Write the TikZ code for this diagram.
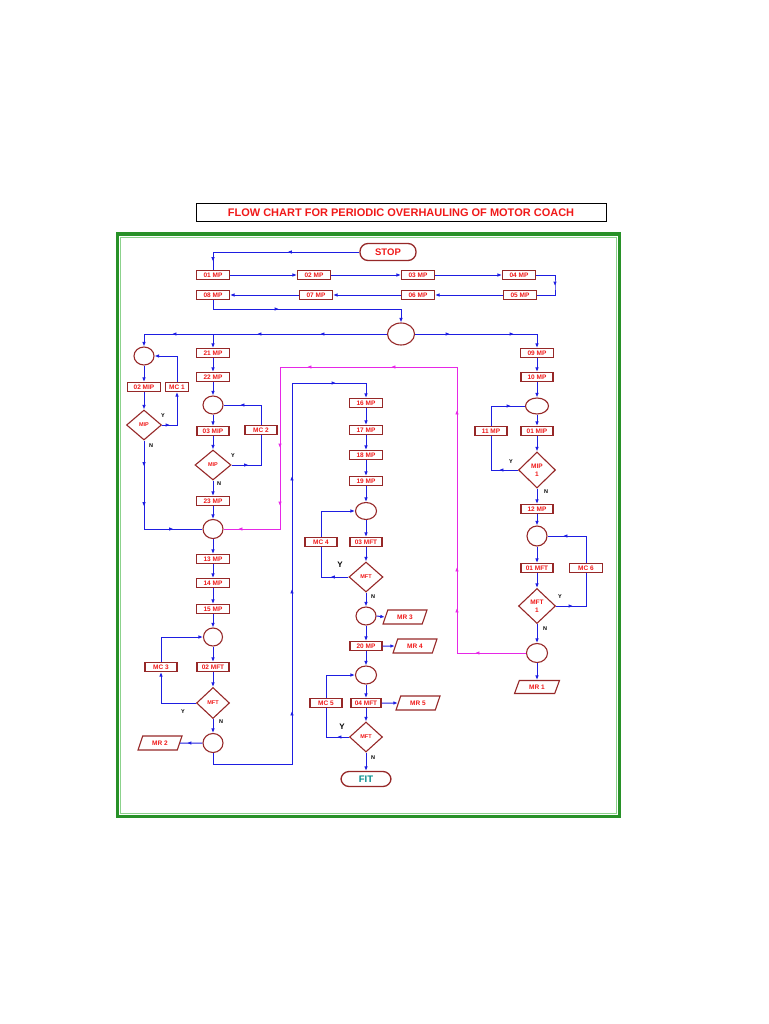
\documentclass[tikz,border=0pt]{standalone}
\usepackage{fontspec}
\setmainfont{Liberation Sans}
\usetikzlibrary{arrows.meta,positioning,shapes.geometric,decorations.markings}
\definecolor{boxred}{RGB}{240,25,25}
\definecolor{edgebrown}{RGB}{150,40,40}
\definecolor{flowblue}{RGB}{30,30,225}
\definecolor{loopmag}{RGB}{230,40,230}
\definecolor{framegreen}{RGB}{40,145,40}
\definecolor{framelight}{RGB}{140,210,140}
\definecolor{fitteal}{RGB}{0,140,140}

\begin{document}
\begin{tikzpicture}[x=1pt, y=-1pt,
    >={Latex[length=4.5pt,width=3.6pt]},
    stepbox/.style={draw=edgebrown, line width=1.1pt, fill=white, text=boxred, font=\bfseries\fontsize{6.5}{7}\selectfont, minimum width=33pt, minimum height=9pt, inner sep=0pt},
    junc/.style={ellipse, draw=edgebrown, line width=1.1pt, fill=white, minimum width=20pt, minimum height=18pt, inner sep=0pt},
    check/.style={diamond, draw=edgebrown, line width=1.1pt, fill=white, text=boxred, font=\bfseries\fontsize{5.5}{6}\selectfont, minimum width=35pt, minimum height=30pt, inner sep=0pt, align=center},
    report/.style={trapezium, trapezium stretches=true, trapezium left angle=65, trapezium right angle=115, draw=edgebrown, line width=1.1pt, fill=white, text=boxred, font=\bfseries\fontsize{6.5}{7}\selectfont, minimum width=44pt, minimum height=14pt, inner sep=0pt},
    term/.style={draw=edgebrown, line width=1.3pt, rounded corners=8pt, fill=white, font=\bfseries\fontsize{9.5}{10}\selectfont, minimum width=56pt, minimum height=17pt, inner sep=0pt},
    bline/.style={draw=flowblue, line width=1pt},
    magline/.style={draw=loopmag, line width=1pt},
    ma/.style={postaction={decorate,decoration={markings,mark=at position #1 with {\arrow{>}}}}},
    yn/.style={font=\bfseries\fontsize{5.5}{6}\selectfont, inner sep=0pt},
    bigyn/.style={font=\bfseries\fontsize{8}{9}\selectfont, inner sep=0pt}
]
    \useasboundingbox (0,0) rectangle (768,1024);

    % title and frame
    \node[draw=black, line width=1pt, minimum width=410pt, minimum height=18pt, inner sep=0pt, text=boxred, font=\bfseries\fontsize{11}{12}\selectfont] (title) at (401,213) {FLOW CHART FOR PERIODIC OVERHAULING OF MOTOR COACH};
    \draw[framegreen, line width=3pt] (117,234) rectangle (619,816);
    \draw[framelight, line width=0.8pt] (120,237) rectangle (616,813);

    % top rows
    \node[term, text=boxred] (stop) at (388,252) {STOP};
    \node[stepbox] (mp01) at (213,275) {01 MP};
    \node[stepbox] (mp02) at (314,275) {02 MP};
    \node[stepbox] (mp03) at (418,275) {03 MP};
    \node[stepbox] (mp04) at (519,275) {04 MP};
    \node[stepbox] (mp05) at (520,295) {05 MP};
    \node[stepbox] (mp06) at (418,295) {06 MP};
    \node[stepbox] (mp07) at (316,295) {07 MP};
    \node[stepbox] (mp08) at (213,295) {08 MP};
    \node[junc, minimum width=27pt, minimum height=22pt] (circ1) at (401,334) {};

    % left loop
    \node[junc] (circA) at (144,356) {};
    \node[stepbox] (mip02) at (144,387) {02 MIP};
    \node[stepbox, minimum width=23pt] (mc1) at (177,387) {MC 1};
    \node[check] (dA) at (144,425) {MIP};

    % second column
    \node[stepbox] (mp21) at (213,353) {21 MP};
    \node[stepbox] (mp22) at (213,377) {22 MP};
    \node[junc] (circC) at (213,405) {};
    \node[stepbox, minimum width=32pt] (mip03) at (213,431) {03 MIP};
    \node[stepbox, minimum width=32pt] (mc2) at (261,430) {MC 2};
    \node[check, minimum width=36pt] (dB) at (213,465) {MIP};
    \node[stepbox] (mp23) at (213,501) {23 MP};
    \node[junc, minimum height=19pt] (circB) at (213,529) {};
    \node[stepbox] (mp13) at (213,559) {13 MP};
    \node[stepbox] (mp14) at (213,583) {14 MP};
    \node[stepbox] (mp15) at (213,609) {15 MP};
    \node[junc, minimum width=19pt] (circD) at (213,637) {};
    \node[stepbox, minimum width=32pt] (mft02) at (213,667) {02 MFT};
    \node[stepbox, minimum width=32pt] (mc3) at (161,667) {MC 3};
    \node[check, minimum width=33pt, minimum height=31pt] (dC) at (213,703) {MFT};
    \node[junc, minimum height=19pt] (circE) at (213,743) {};
    \node[report] (mr2) at (160,743) {MR 2};

    % centre column
    \node[stepbox] (mp16) at (366,403) {16 MP};
    \node[stepbox] (mp17) at (366,430) {17 MP};
    \node[stepbox] (mp18) at (366,455) {18 MP};
    \node[stepbox] (mp19) at (366,481) {19 MP};
    \node[junc, minimum width=21pt, minimum height=17pt] (circF) at (366,511) {};
    \node[stepbox, minimum width=32pt] (mft03) at (366,542) {03 MFT};
    \node[stepbox, minimum width=32pt] (mc4) at (321,542) {MC 4};
    \node[check, minimum width=34pt] (dD) at (366,577) {MFT};
    \node[junc] (circG) at (366,616) {};
    \node[report] (mr3) at (405,617) {MR 3};
    \node[stepbox, minimum width=32pt] (mp20) at (366,646) {20 MP};
    \node[report] (mr4) at (415,646) {MR 4};
    \node[junc, minimum width=21pt] (circH) at (366,675) {};
    \node[stepbox, minimum width=32pt] (mc5) at (326,703) {MC 5};
    \node[stepbox, minimum width=30pt] (mft04) at (366,703) {04 MFT};
    \node[report] (mr5) at (418,703) {MR 5};
    \node[check, minimum width=33pt] (dE) at (366,737) {MFT};
    \node[term, minimum width=50pt, minimum height=15pt, text=fitteal] (fit) at (366,779) {FIT};

    % right column
    \node[stepbox] (mp09) at (537,353) {09 MP};
    \node[stepbox, minimum width=32pt] (mp10) at (537,377) {10 MP};
    \node[junc, minimum width=23pt, minimum height=16pt] (circI) at (537,406) {};
    \node[stepbox, minimum width=32pt] (mp11) at (491,431) {11 MP};
    \node[stepbox, minimum width=32pt] (mip01) at (537,431) {01 MIP};
    \node[check, minimum width=37pt, minimum height=36pt, font=\bfseries\fontsize{6.5}{8}\selectfont] (dF) at (537,470) {MIP\\1};
    \node[stepbox, minimum width=32pt] (mp12) at (537,509) {12 MP};
    \node[junc, minimum height=20pt] (circJ) at (537,536) {};
    \node[stepbox, minimum width=32pt] (mft01) at (537,568) {01 MFT};
    \node[stepbox] (mc6) at (586,568) {MC 6};
    \node[check, minimum width=37pt, minimum height=35pt, font=\bfseries\fontsize{6.5}{8}\selectfont] (dG) at (537,606) {MFT\\1};
    \node[junc, minimum width=21pt, minimum height=19pt] (circK) at (537,653) {};
    \node[report, minimum width=45pt, minimum height=13pt] (mr1) at (537,687) {MR 1};

    % Y / N labels
    \node[yn] (yA) at (163,416) {Y};
    \node[yn] (nA) at (151,446) {N};
    \node[yn] (yB) at (233,456) {Y};
    \node[yn] (nB) at (219,484) {N};
    \node[yn] (yC) at (183,712) {Y};
    \node[yn] (nC) at (221,722) {N};
    \node[bigyn] (yD) at (340,565) {Y};
    \node[yn] (nD) at (373,597) {N};
    \node[bigyn] (yE) at (342,727) {Y};
    \node[yn] (nE) at (373,758) {N};
    \node[yn] (yF) at (511,462) {Y};
    \node[yn] (nF) at (546,492) {N};
    \node[yn] (yG) at (560,597) {Y};
    \node[yn] (nG) at (545,629) {N};

    % junction points
    \coordinate (turnR) at (555,285);
    \coordinate (dropC) at (401,309);
    \coordinate (splitL) at (144,334);
    \coordinate (split21) at (213,334);
    \coordinate (riseB) at (292,764);
    \coordinate (riseT) at (292,383);
    \coordinate (magTR) at (457,367);
    \coordinate (magBL) at (280,529);

    % top connectors
    \draw[bline, ma=72pt, ma=156pt] (stop.west) -| (mp01.north);
    \draw[bline,->] (mp01.east) -- (mp02.west);
    \draw[bline,->] (mp02.east) -- (mp03.west);
    \draw[bline,->] (mp03.east) -- (mp04.west);
    \draw[bline, ma=30pt] (mp04.east) -| (turnR) |- (mp05.east);
    \draw[bline,->] (mp05.west) -- (mp06.east);
    \draw[bline,->] (mp06.west) -- (mp07.east);
    \draw[bline,->] (mp07.west) -- (mp08.east);
    \draw[bline,->, ma=75pt] (mp08.south) |- (dropC) -- (circ1.north);
    \draw[bline,->, ma=67pt, ma=130pt, ma=215pt] (circ1.west) -- (splitL) -- (circA.north);
    \draw[bline,->] (split21) -- (mp21.north);
    \draw[bline,->, ma=35pt, ma=99pt] (circ1.east) -| (mp09.north);

    % left loop
    \draw[bline,->] (circA.south) -- (mip02.north);
    \draw[bline,->] (mip02.south) -- (dA.north);
    \draw[bline,->, ma=8pt] (dA.east) -| (mc1.south);
    \draw[bline,->] (mc1.north) |- (circA.east);
    \draw[bline, ma=26pt, ma=66pt, ma=118pt] (dA.south) |- (circB.west);

    % second column
    \draw[bline,->] (mp21) -- (mp22);
    \draw[bline,->] (mp22) -- (circC);
    \draw[bline,->] (circC) -- (mip03);
    \draw[bline,->] (mip03) -- (dB);
    \draw[bline, ma=17pt] (dB.east) -| (mc2.south);
    \draw[bline, ma=41pt] (mc2.north) |- (circC.east);
    \draw[bline,->] (dB) -- (mp23);
    \draw[bline,->] (mp23) -- (circB);
    \draw[bline,->] (circB) -- (mp13);
    \draw[bline,->] (mp13) -- (mp14);
    \draw[bline,->] (mp14) -- (mp15);
    \draw[bline,->] (mp15) -- (circD);
    \draw[bline,->] (circD) -- (mft02);
    \draw[bline,->] (mft02) -- (dC);
    \draw[bline,->] (dC.west) -| (mc3.south);
    \draw[bline,->] (mc3.north) |- (circD.west);
    \draw[bline,->] (dC) -- (circE);
    \draw[bline, ma=0.7] (circE.west) -- (mr2.east);
    \draw[bline,->, ma=143pt, ma=265pt, ma=378pt, ma=515pt] (circE.south) |- (riseB) -- (riseT) -| (mp16.north);

    % centre column
    \draw[bline,->] (mp16) -- (mp17);
    \draw[bline,->] (mp17) -- (mp18);
    \draw[bline,->] (mp18) -- (mp19);
    \draw[bline,->] (mp19) -- (circF);
    \draw[bline,->] (circF) -- (mft03);
    \draw[bline,->] (mft03) -- (dD);
    \draw[bline, ma=18pt] (dD.west) -| (mc4.south);
    \draw[bline,->] (mc4.north) |- (circF.west);
    \draw[bline,->] (dD) -- (circG);
    \draw[bline,->] (circG.east) -- (mr3.west);
    \draw[bline,->] (circG) -- (mp20);
    \draw[bline,->] (mp20.east) -- (mr4.west);
    \draw[bline,->] (mp20) -- (circH);
    \draw[bline,->] (circH) -- (mft04);
    \draw[bline,->] (mft04.east) -- (mr5.west);
    \draw[bline,->] (mft04) -- (dE);
    \draw[bline, ma=12pt] (dE.west) -| (mc5.south);
    \draw[bline,->] (mc5.north) |- (circH.west);
    \draw[bline,->] (dE) -- (fit);

    % right column
    \draw[bline,->] (mp09) -- (mp10);
    \draw[bline,->] (mp10) -- (circI);
    \draw[bline,->] (circI) -- (mip01);
    \draw[bline,->] (mip01) -- (dF);
    \draw[bline, ma=19pt] (dF.west) -| (mp11.south);
    \draw[bline, ma=40pt] (mp11.north) |- (circI.west);
    \draw[bline,->] (dF) -- (mp12);
    \draw[bline,->] (mp12) -- (circJ);
    \draw[bline,->] (circJ) -- (mft01);
    \draw[bline,->] (mft01) -- (dG);
    \draw[bline, ma=17pt] (dG.east) -| (mc6.south);
    \draw[bline, ma=50pt] (mc6.north) |- (circJ.east);
    \draw[bline,->] (dG) -- (circK);
    \draw[bline,->] (circK) -- (mr1);

    % return loop
    \draw[magline, ma=51pt, ma=114pt, ma=155pt, ma=312pt, ma=421pt, ma=505pt, ma=613pt, ma=671pt, ma=736pt] (circK.west) -| (magTR) -| (magBL) -- (circB.east);
\end{tikzpicture}
\end{document}
